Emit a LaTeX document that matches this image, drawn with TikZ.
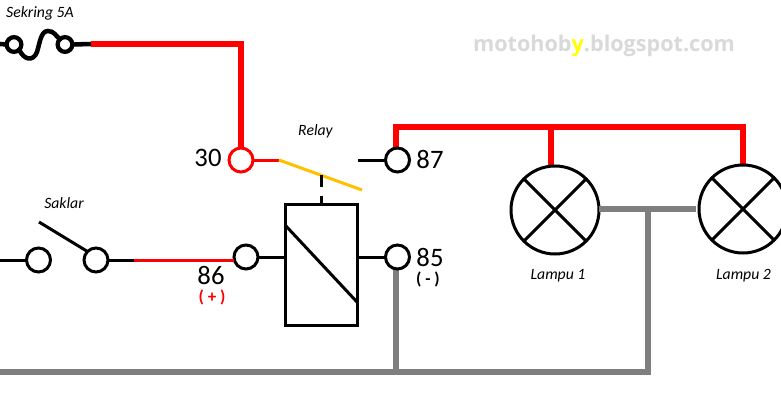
\documentclass[tikz,border=0pt]{standalone}
\usepackage{fontspec}
\setmainfont{Carlito}
\newfontfamily\wmfont{Open Sans}
\definecolor{wire}{RGB}{255,0,0}
\definecolor{gnd}{RGB}{127,127,127}
\definecolor{arm}{RGB}{255,192,0}
\definecolor{wm}{RGB}{217,217,217}
\definecolor{wmy}{RGB}{255,255,0}
\tikzset{
  px/.style={x=0.75pt,y=-0.75pt},
  term/.style={circle,draw=black,line width=2.25pt,fill=white,minimum size=18pt,inner sep=0pt,outer sep=0pt},
  termred/.style={term,draw=wire},
  lamp/.style={circle,draw=black,line width=2.25pt,minimum size=66pt,inner sep=0pt,outer sep=0pt},
  fuseend/.style={circle,draw=black,line width=3.2pt,minimum size=11pt,inner sep=0pt,outer sep=0pt},
  blk/.style={draw=black,line width=2.25pt},
  redthin/.style={draw=wire,line width=2.25pt},
  redthick/.style={draw=wire,line width=4.5pt,line join=miter},
  grey/.style={draw=gnd,line width=4.5pt,line join=miter},
  pinlabel/.style={font=\fontsize{20}{20}\selectfont,inner sep=0pt},
  caplabel/.style={font=\fontsize{11.8}{13}\selectfont\itshape,inner sep=0pt},
  signlabel/.style={font=\fontsize{12.8}{14}\selectfont\bfseries,inner sep=0pt},
}
\begin{document}
\begin{tikzpicture}[px]
\useasboundingbox (0,0) rectangle (781,410);
\fill[white] (0,0) rectangle (781,410);
% free ends
\coordinate (fuseL) at (0,44);
\coordinate (fuseR) at (91,44);
\coordinate (corner1) at (241,44);
\coordinate (swL) at (0,260);
\coordinate (swMid) at (134,260);
\coordinate (armA) at (279,160);
\coordinate (armB) at (362,190);
\coordinate (c87a) at (358,160);
\coordinate (swTip) at (39,222);
\coordinate (dashTop) at (321.5,175);
\coordinate (gndL) at (0,372);
\coordinate (gndJ) at (396,372);
\coordinate (gndC) at (648,372);
\coordinate (gndT) at (648,209);
\coordinate (red1) at (396,127);
\coordinate (red2) at (551,127);
\coordinate (red3) at (743,127);
% red and grey wires under the terminals
\draw[redthick,line cap=butt] (fuseR) -- (corner1) -- (241,148);
\draw[redthick] (396,150) -- (red1) -- (red3) -- (743,165);
\draw[redthick] (red2) -- (551,165);
\draw[grey] (gndL) -- (gndC) -- (gndT);
\draw[grey] (396,268) -- (gndJ);
% nodes
\node[termred] (t30) at (241,160) {};
\node[term] (t87) at (397.5,160) {};
\node[term] (t86) at (246,257) {};
\node[term] (t85) at (397.5,257) {};
\node[term] (s1) at (38.5,260) {};
\node[term] (s2) at (96,260) {};
\node[lamp] (l1) at (555,210) {};
\node[lamp] (l2) at (743,209) {};
\node[draw=black,line width=2.25pt,minimum width=54pt,minimum height=90.75pt,inner sep=0pt,outer sep=0pt] (coil) at (321,264.5) {};
% fuse
\node[fuseend] (f1) at (14,44.5) {};
\node[fuseend] (f2) at (65,44.5) {};
\draw[black,line width=3.4pt] (fuseL) -- (f1.west);
\draw[black,line width=3.4pt] (f2.east) -- (fuseR);
\draw[black,line width=3.4pt,line cap=round] (f1.south east) .. controls (24,60) and (33,62) .. (37,52) .. controls (40,42) and (41,31) .. (48,31) .. controls (54,31) and (56,36) .. (f2.north west);
% black wires
\draw[blk] (swL) -- (s1.west);
\draw[blk] (s2.east) -- (swMid);
\draw[blk] (swTip) -- (s2.north west);
\draw[redthin] (swMid) -- (t86.west |- swMid);
\draw[redthin] (t30.east) -- (armA);
\draw[draw=arm,line width=2.25pt] (armA) -- (armB);
\draw[blk] (c87a) -- (t87.west);
\draw[blk] (t86.east) -- (coil.west |- t86);
\draw[blk] (coil.east |- t85) -- (t85.west);
\draw[blk,dash pattern=on 9pt off 6.5pt] (dashTop) -- (coil.north -| dashTop);
\draw[black,line width=2.25pt] (285,225) -- (357,302);
% lamp crosses
\draw[black,line width=2.25pt] (l1.north west) -- (l1.south east);
\draw[black,line width=2.25pt] (l1.north east) -- (l1.south west);
\draw[black,line width=2.25pt] (l2.north west) -- (l2.south east);
\draw[black,line width=2.25pt] (l2.north east) -- (l2.south west);
\draw[grey] (l1.east |- gndT) -- (696,209);
% labels
\node[pinlabel] (n30) at (208,158) {30};
\node[pinlabel] (n87) at (430,159) {87};
\node[pinlabel] (n85) at (430,257) {85};
\node[pinlabel] (n86) at (211,275.5) {86};
\node[signlabel,text=wire] (pl) at (212,297) {( + )};
\node[signlabel] (mi) at (428,279) {( - )};
\node[caplabel] (relay) at (315.5,131) {Relay};
\node[caplabel] (sak) at (64,203) {Saklar};
\node[caplabel] (sek) at (40,13) {Sekring 5A};
\node[caplabel] (lp1) at (558,276) {Lampu 1};
\node[caplabel] (lp2) at (743.5,276) {Lampu 2};
\node[inner sep=0pt,font=\wmfont\bfseries\fontsize{16.2}{18}\selectfont,text=wm] (wmk) at (604,46) {motohob\textcolor{wmy}{y}.blogspot.com};
\end{tikzpicture}
\end{document}
